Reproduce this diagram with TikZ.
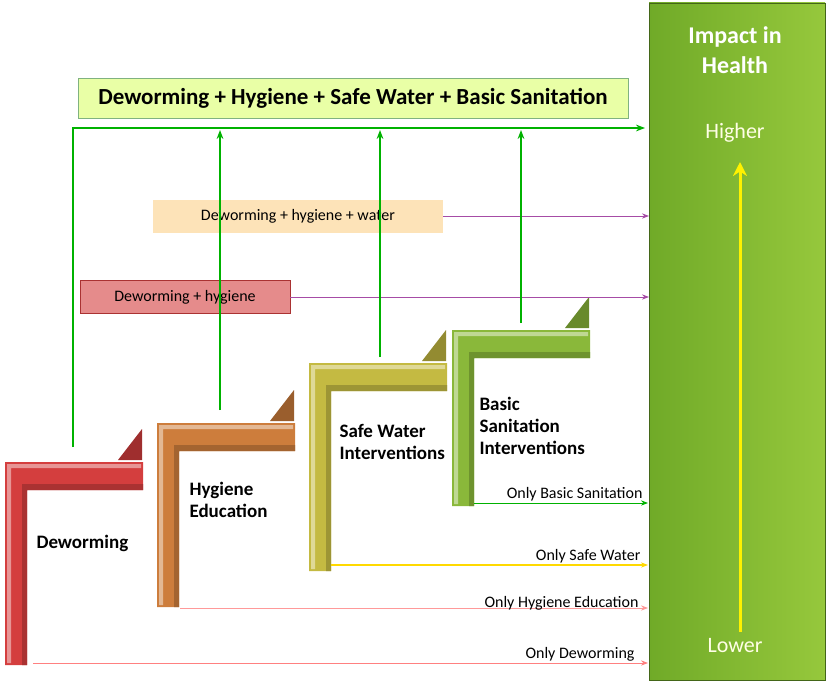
\documentclass[tikz,border=0pt]{standalone}
\usepackage{fontspec}
\setmainfont{Carlito}
\usetikzlibrary{arrows.meta}
\definecolor{cR}{RGB}{212,62,62}
\definecolor{cO}{RGB}{205,125,60}
\definecolor{cY}{RGB}{196,186,66}
\definecolor{cG}{RGB}{138,184,58}
\definecolor{impA}{RGB}{112,170,40}
\definecolor{impB}{RGB}{150,200,60}
\begin{document}
\begin{tikzpicture}[x=1pt,y=-1pt,
 lbl/.style={font=\bfseries\fontsize{19}{22}\selectfont,align=left,anchor=west},
 sm/.style={font=\fontsize{16}{18}\selectfont,anchor=south east,inner sep=1pt,text=black},
 gar/.style={draw=green!70!black,line width=1.6pt,-{Stealth[length=9pt]}},
 par/.style={draw=violet!70,line width=1pt,-{Stealth[length=7pt]}},
 bx/.style={draw=#1!70!black,line width=0.6pt,inner sep=0pt,minimum height=33pt}]
\useasboundingbox (0,0) rectangle (828,685);
% impact column
\node[draw=impA!70!black,minimum width=176pt,minimum height=677pt,anchor=north west,inner sep=0] (imp) at (649,3) {};
\fill[left color=impA,right color=impB] (649,3) rectangle (825,680);
\draw[impA!60!black] (649,3) rectangle (825,680);
\node[font=\bfseries\fontsize{24}{30}\selectfont,text=white,align=center] (it) at (735,50) {Impact in\\Health};
\node[font=\fontsize{22}{26}\selectfont,text=white!90!yellow] (hi) at (735,133) {Higher};
\node[font=\fontsize{22}{26}\selectfont,text=white!90!yellow] (lo) at (735,646) {Lower};
\draw[yellow,line width=3pt,-{Stealth[length=14pt,width=14pt]}] (740,632) coordinate (ya) -- (740,162) coordinate (yb);
% L shapes
\newcommand\Lshape[5]{% left top bottom color name
 \fill[#4] (#1,#2) -- (#1+138,#2) -- (#1+138,#2+28) -- (#1+22,#2+28) -- (#1+22,#3) -- (#1,#3) -- cycle;
 \fill[#4!80!black] (#1+22,#2+22) -- (#1+138,#2+22) -- (#1+138,#2+28) -- (#1+22,#2+28) -- (#1+22,#3) -- (#1+17,#3) -- (#1+17,#2+22) -- cycle;
 \fill[#4!55!white] (#1+2,#2+2) -- (#1+136,#2+2) -- (#1+136,#2+6) -- (#1+6,#2+6) -- (#1+6,#3-2) -- (#1+2,#3-2) -- cycle;
 \fill[#4!75!black] (#1+113,#2-2) -- (#1+137,#2-33) -- (#1+137,#2-2) -- cycle;
 \coordinate (#5) at (#1+22,#3-2);}
\Lshape{5}{462}{665}{cR}{d}
\Lshape{157}{423}{607}{cO}{h}
\Lshape{309}{363}{571}{cY}{w}
\Lshape{452}{330}{506}{cG}{s}
\node[lbl] (dl) at (33,543) {Deworming};
\node[lbl] (hl) at (186,500) {Hygiene\\Education};
\node[lbl] (wl) at (336,442) {Safe Water\\Interventions};
\node[lbl] (sl) at (476,426) {Basic\\Sanitation\\Interventions};
% boxes
\node[bx=green,fill=green!25!yellow!35,draw=green!40!black!50,minimum width=550pt,minimum height=40pt,font=\bfseries\fontsize{23}{26}\selectfont] (all) at (353,98) {Deworming + Hygiene + Safe Water + Basic Sanitation};
\node[bx=yellow,fill=yellow!20!orange!25,draw=none,minimum width=290pt,font=\fontsize{16}{18}\selectfont] (dhw) at (298,216) {Deworming + hygiene + water};
\node[bx=red,fill=cR!60,draw=cR!80!black,minimum width=210pt,font=\fontsize{16}{18}\selectfont] (dh) at (185,297) {Deworming + hygiene};
\draw[par] (dhw.east) -- (dhw.east -| imp.west);
\draw[par] (dh.east) -- (dh.east -| imp.west);
% green arrows
\coordinate (g0) at (73,447);
\draw[gar] (g0) |- (645,128);
\draw[gar] (220,410) -- (220,130);
\draw[gar] (380,357) -- (380,130);
\draw[gar] (521,323) -- (521,130);
% bottom lines
\draw[green!70!black,line width=1pt,-{Stealth[length=7pt]}] (474,503) -- (648,503) node[sm,pos=1,xshift=-4pt] {Only Basic Sanitation};
\draw[orange!30!yellow,line width=1.2pt,-{Stealth[length=7pt]}] (331,565) -- (648,565) node[sm,pos=1,xshift=-6pt] {Only Safe Water};
\draw[red!40,line width=1pt,-{Stealth[length=7pt]}] (180,608) -- (648,608) node[sm,pos=1,xshift=-8pt,yshift=-4pt] {Only Hygiene Education};
\draw[red!50,line width=1pt,-{Stealth[length=7pt]}] (33,663) -- (648,663) node[sm,pos=1,xshift=-12pt] {Only Deworming};
\end{tikzpicture}
\end{document}
